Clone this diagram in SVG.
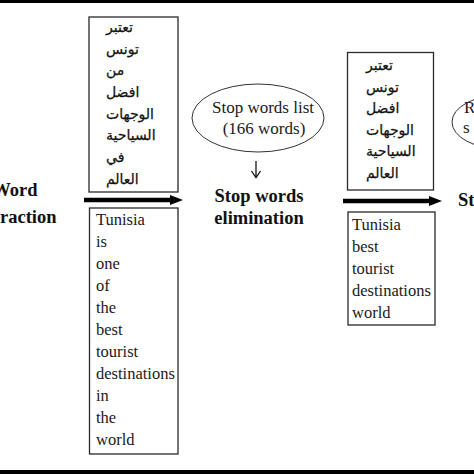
<svg xmlns="http://www.w3.org/2000/svg" width="474" height="474" viewBox="0 0 474 474">
<style>
.box{fill:#fff;stroke:#2a2a2a;stroke-width:1.3}
.ar{font-family:"DejaVu Sans",sans-serif;font-size:14px;fill:#111;stroke:#111;stroke-width:0.25}
.en{font-family:"Liberation Serif","Times New Roman",serif;font-size:16.5px;fill:#1a1a1a}
.lbl{font-family:"Liberation Serif","Times New Roman",serif;font-size:18.5px;font-weight:bold;fill:#111}
.ell{fill:#fff;stroke:#333;stroke-width:1}
.sh{stroke:#000;stroke-width:4.5;fill:none}
.hd{fill:#000}
</style>
<rect width="474" height="474" fill="#fff"/>
<rect x="0" y="0" width="474" height="3" fill="#000"/>
<rect x="0" y="470" width="474" height="4" fill="#000"/>

<g id="label-word-extraction">
<text class="lbl" x="37.5" y="196" text-anchor="end">Word</text>
<text class="lbl" x="0" y="223">raction</text>
</g>

<g id="box-arabic-1">
<rect class="box" x="89" y="17" width="89" height="175"/>
<text class="ar" x="106" y="32">تعتبر</text>
<text class="ar" x="106" y="54">تونس</text>
<text class="ar" x="106" y="75">من</text>
<text class="ar" x="106" y="97">افضل</text>
<text class="ar" x="106" y="119">الوجهات</text>
<text class="ar" x="106" y="140">السياحية</text>
<text class="ar" x="106" y="162">في</text>
<text class="ar" x="106" y="184">العالم</text>
</g>

<g id="box-english-1">
<rect class="box" x="89.5" y="208" width="88.5" height="246"/>
<text class="en" x="96" y="225">Tunisia</text>
<text class="en" x="96" y="247">is</text>
<text class="en" x="96" y="269">one</text>
<text class="en" x="96" y="291">of</text>
<text class="en" x="96" y="313">the</text>
<text class="en" x="96" y="335">best</text>
<text class="en" x="96" y="357">tourist</text>
<text class="en" x="96" y="379">destinations</text>
<text class="en" x="96" y="401">in</text>
<text class="en" x="96" y="423">the</text>
<text class="en" x="96" y="445">world</text>
</g>

<g id="stop-words-list">
<ellipse class="ell" cx="258" cy="118" rx="66" ry="34"/>
<text class="en" style="font-size:17px" x="263" y="113" text-anchor="middle">Stop words list</text>
<text class="en" style="font-size:17px" x="264" y="134" text-anchor="middle">(166 words)</text>
</g>

<g id="label-stop-words-elimination">
<text class="lbl" x="259" y="202" text-anchor="middle">Stop words</text>
<text class="lbl" x="259" y="224" text-anchor="middle">elimination</text>
</g>

<g id="box-arabic-2">
<rect class="box" x="347.5" y="52.5" width="86" height="137.5"/>
<text class="ar" x="366" y="70">تعتبر</text>
<text class="ar" x="366" y="92">تونس</text>
<text class="ar" x="366" y="113">افضل</text>
<text class="ar" x="366" y="135">الوجهات</text>
<text class="ar" x="366" y="156">السياحية</text>
<text class="ar" x="366" y="178">العالم</text>
</g>

<g id="box-english-2">
<rect class="box" x="348" y="212" width="87" height="113"/>
<text class="en" x="352" y="230">Tunisia</text>
<text class="en" x="352" y="252">best</text>
<text class="en" x="352" y="274">tourist</text>
<text class="en" x="352" y="296">destinations</text>
<text class="en" x="352" y="318">world</text>
</g>

<g id="right-list">
<ellipse class="ell" cx="502" cy="122" rx="50" ry="27"/>
<text class="en" style="font-size:17px" x="464" y="113">R</text>
<text class="en" style="font-size:17px" x="463" y="133">s</text>
</g>

<g id="label-right">
<text class="lbl" x="458" y="206">St</text>
</g>

<g id="connectors">
<line class="sh" x1="84" y1="200" x2="173" y2="200"/>
<polygon class="hd" points="170,195 183,200 170,205"/>
<line class="sh" x1="343" y1="201" x2="432" y2="201"/>
<polygon class="hd" points="429,196 442,201 429,206"/>
<line x1="256" y1="161" x2="256" y2="177" stroke="#111" stroke-width="1.3"/>
<polyline points="251.5,171 256,177.5 260.5,171" fill="none" stroke="#111" stroke-width="1.3"/>
</g>
</svg>
